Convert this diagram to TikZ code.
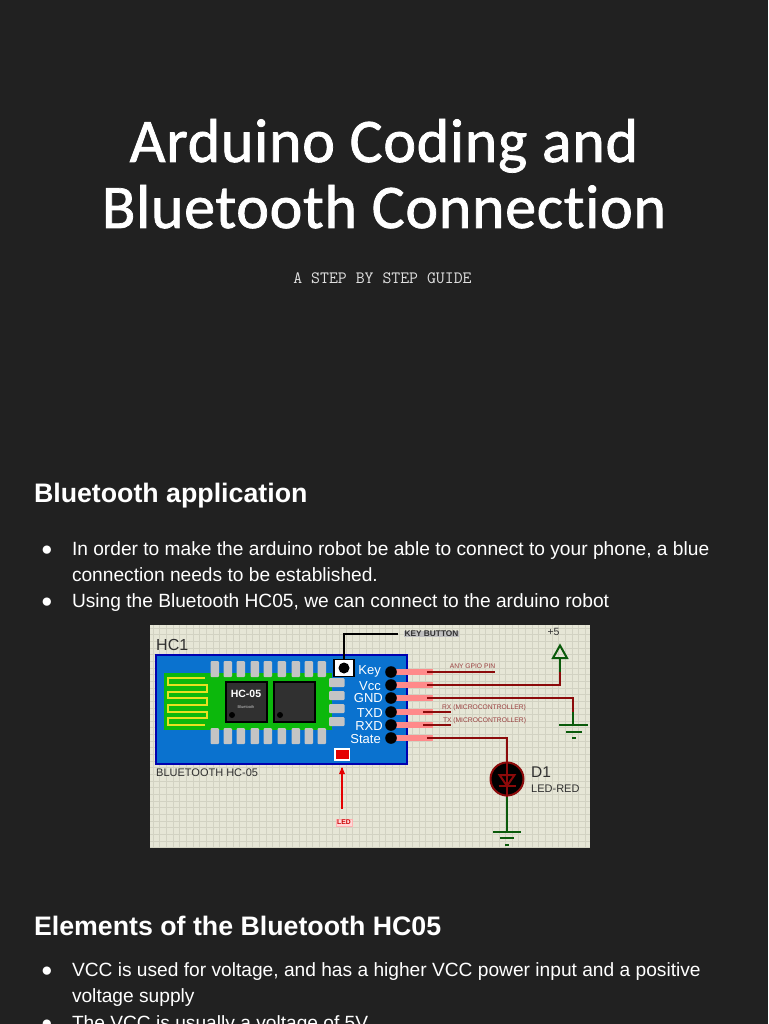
\documentclass[tikz,border=0pt]{standalone}
\usepackage{fontspec}
\setmainfont{Liberation Sans}
\newfontfamily\titlefont[FakeBold=1.2,LetterSpace=1.1,Ligatures=NoCommon]{Carlito}
\definecolor{bg}{HTML}{212121}
\definecolor{paper}{HTML}{E6E6D6}
\definecolor{gridc}{HTML}{D2D2C2}
\definecolor{board}{HTML}{0A72CF}
\definecolor{boardb}{HTML}{0000B0}
\definecolor{pcb}{HTML}{0CB80C}
\definecolor{padc}{HTML}{C4C4C4}
\definecolor{chipc}{HTML}{303030}
\definecolor{wire}{HTML}{8B0A0A}
\definecolor{gwire}{HTML}{0A5A0A}
\definecolor{pinc}{HTML}{FF8A8A}
\definecolor{lbl}{HTML}{9A4040}
\definecolor{txt}{HTML}{303030}
\definecolor{antc}{HTML}{E8E020}
\newcommand{\fs}[1]{\fontsize{#1}{#1}\selectfont}
\tikzset{
 x=1pt,y=-1pt,
 txtnode/.style={inner sep=0pt,outer sep=0pt,anchor=base west,text=white},
 titletext/.style={inner sep=0pt,anchor=base,text=white,font=\titlefont\fs{62}},
 bodytext/.style={txtnode,font=\fs{19.17}},
 headtext/.style={txtnode,font=\bfseries\fs{26.75}},
 pinlabel/.style={inner sep=0pt,anchor=east,text=white,font=\fs{13}},
 schem/.style={inner sep=0pt,anchor=base west,text=txt},
 small/.style={inner sep=0pt,anchor=center,text=lbl,font=\fs{6.7}},
 padpart/.style={fill=padc,draw=none,rounded corners=1pt},
 chippart/.style={fill=chipc,draw=black,line width=2pt},
 redwire/.style={draw=wire,line width=2pt},
 greenwire/.style={draw=gwire,line width=2pt},
 pinbar/.style={draw=pinc,line width=6pt},
}
\begin{document}
\begin{tikzpicture}
\useasboundingbox (0,0) rectangle (768,1024);
\fill[bg] (0,0) rectangle (768,1024);
\node[titletext] (t1) at (384,162) {Arduino Coding and};
\node[titletext] (t2) at (384,228) {Bluetooth Connection};
\node[inner sep=0pt,text=white!88!black,font=\ttfamily\fs{17.3}] (t3) at (382.5,278) {A STEP BY STEP GUIDE};
\node[headtext] (h1) at (34,502) {Bluetooth application};
\node[bodytext] (b0) at (41,555) {●};
\node[bodytext] (b1) at (72,555) {In order to make the arduino robot be able to connect to your phone, a blue};
\node[bodytext] (b2) at (72,581) {connection needs to be established.};
\node[bodytext] (b3) at (41,607) {●};
\node[bodytext] (b4) at (72,607) {Using the Bluetooth HC05, we can connect to the arduino robot};
\node[headtext] (h2) at (34,935) {Elements of the Bluetooth HC05};
\node[bodytext] (b5) at (41,976) {●};
\node[bodytext] (b6) at (72,976) {VCC is used for voltage, and has a higher VCC power input and a positive};
\node[bodytext] (b7) at (72,1002.5) {voltage supply};
\node[bodytext] (b8) at (41,1029) {●};
\node[bodytext] (b9) at (72,1029) {The VCC is usually a voltage of 5V};
% schematic sheet
\fill[paper] (150,625) rectangle (590,848);
\begin{scope}
\clip (150,625) rectangle (590,848);
\foreach \i in {0,...,66} \draw[gridc,line width=.6pt] (153+\i*6.65,625) -- (153+\i*6.65,848);
\foreach \i in {0,...,33} \draw[gridc,line width=.6pt] (150,628+\i*6.65) -- (590,628+\i*6.65);
\end{scope}
% board
\draw[fill=board,draw=boardb,line width=2pt] (156,655) rectangle (407,764);
\fill[pcb] (164,673) rectangle (332,730);
\foreach \x in {211,224,237,251,264,278,292,305,318} {
 \fill[padpart] (\x-.5,661) rectangle +(8.5,16);
 \fill[padpart] (\x-.5,728) rectangle +(8.5,16);
}
\foreach \y in {678,691,704,717} \fill[padpart] (329,\y) rectangle +(15.5,9);
\draw[antc,line width=2pt] (205,678) -- (168,678) -- (168,685) -- (207,685) -- (207,692) -- (168,692) -- (168,698) -- (207,698) -- (207,705) -- (168,705) -- (168,712) -- (207,712) -- (207,718) -- (168,718) -- (168,725) -- (205,725);
\draw[chippart] (226,682) rectangle (267,722);
\draw[chippart] (274,682) rectangle (315,722);
\fill[black] (232,715) circle (3);
\fill[black] (280,715) circle (3);
\node[inner sep=0pt,text=white,font=\bfseries\fs{10.5}] (chipname) at (246,694) {HC-05};
\node[inner sep=0pt,text=padc,font=\fs{4}] (chipsub) at (246,707) {Bluetooth};
% button
\node[draw=black,fill=white,line width=1.2pt,minimum width=20pt,minimum height=17pt,inner sep=0pt] (btn) at (344,668) {};
\fill[black] (btn.center) circle (5.5);
% LED
\node[fill=white,minimum width=16pt,minimum height=13pt,inner sep=0pt] (ledw) at (342,754.5) {};
\fill[red!90!black] (336,750) rectangle (348.5,758.5);
% pin labels
\node[pinlabel] (k) at (381,671) {Key};
\node[pinlabel] (v) at (381,686) {Vcc};
\node[pinlabel] (g) at (383,698) {GND};
\node[pinlabel] (tx) at (383,713) {TXD};
\node[pinlabel] (rx) at (383,726) {RXD};
\node[pinlabel] (st) at (381,739) {State};
% pins
\foreach \n/\y in {1/672,2/685,3/698,4/712,5/725,6/738} {
 \coordinate (p\n) at (391,\y);
 \coordinate (e\n) at (433,\y);
 \draw[pinbar] (p\n) -- (e\n);
 \fill[black] (p\n) circle (5.8);
 \coordinate (w\n) at (427,\y);
}
% wires
\coordinate (w1e) at (495,672);
\draw[redwire] (w1) -- (w1e);
\coordinate (pwr) at (560,658);
\coordinate (pwrm) at (560,672);
\draw[redwire] (w2) -| (pwrm);
\draw[greenwire] (pwrm) -- (pwr);
\draw[gwire,line width=2pt,line join=miter] (pwr) -- (553,658) -- (560,645.5) -- (567,658) -- cycle;
\coordinate (g1m) at (573,712);
\coordinate (g1) at (573,725);
\draw[redwire] (w3) -| (g1m);
\draw[greenwire] (g1m) -- (g1);
\draw[greenwire] (559,725) -- (588,725);
\draw[greenwire] (566,732) -- (582,732);
\draw[greenwire] (572,738) -- (576,738);
\coordinate (r4) at (423,712); \coordinate (r4e) at (451,712);
\coordinate (r5) at (423,725); \coordinate (r5e) at (451,725);
\draw[redwire] (r4) -- (r4e);
\draw[redwire] (r5) -- (r5e);
% LED diode
\node[circle,fill=black,draw=wire,line width=2pt,minimum size=33pt,inner sep=0pt] (d1) at (507,779) {};
\coordinate (dtop) at (507,762);
\coordinate (dbot) at (507,797);
\coordinate (g2) at (507,832);
\draw[redwire] (w6) -| (dtop);
\draw[redwire] (dtop) -- (dbot);
\draw[redwire] (499.5,775) -- (514.5,775) -- (507,786) -- cycle;
\draw[redwire] (498.5,786) -- (515.5,786);
\draw[greenwire] (dbot) -- (g2);
\draw[greenwire] (493,832) -- (521,832);
\draw[greenwire] (500,838) -- (514,838);
\draw[greenwire] (505,845) -- (509,845);
% key line
\coordinate (kl) at (398,634);
\draw[black,line width=2pt] (btn.north) |- (kl);
% LED arrow
\coordinate (la) at (342,809);
\coordinate (lb) at (342,768);
\draw[red!90!black,line width=1.3pt] (la) -- (lb);
\fill[red!90!black] (342,767) -- (339,774) -- (345,774) -- cycle;
% sheet labels
\node[schem,font=\fs{16}] (hc1) at (156,650.5) {HC1};
\node[schem,font=\fs{11}] (bt) at (156,776) {BLUETOOTH HC-05};
\node[schem,font=\fs{15.5}] (dn) at (531,777) {D1};
\node[schem,font=\fs{11}] (dv) at (531,792) {LED-RED};
\node[inner sep=1pt,text=txt,font=\fs{10.5}] (pl) at (553.5,632) {+5};
\node[inner sep=.5pt,fill=gray!50,text=txt,font=\bfseries\fs{8.3}] (kb) at (431.5,634) {KEY BUTTON};
\node[small] (an) at (472.5,666) {ANY GPIO PIN};
\node[small] (rxl) at (484,707.5) {RX (MICROCONTROLLER)};
\node[small] (txl) at (484.5,721) {TX (MICROCONTROLLER)};
\node[inner sep=1pt,fill=red!15,draw=red!30,line width=.5pt,text=red!80!black,font=\bfseries\fs{6.8}] (ll) at (344,822.5) {LED};
\end{tikzpicture}
\end{document}
